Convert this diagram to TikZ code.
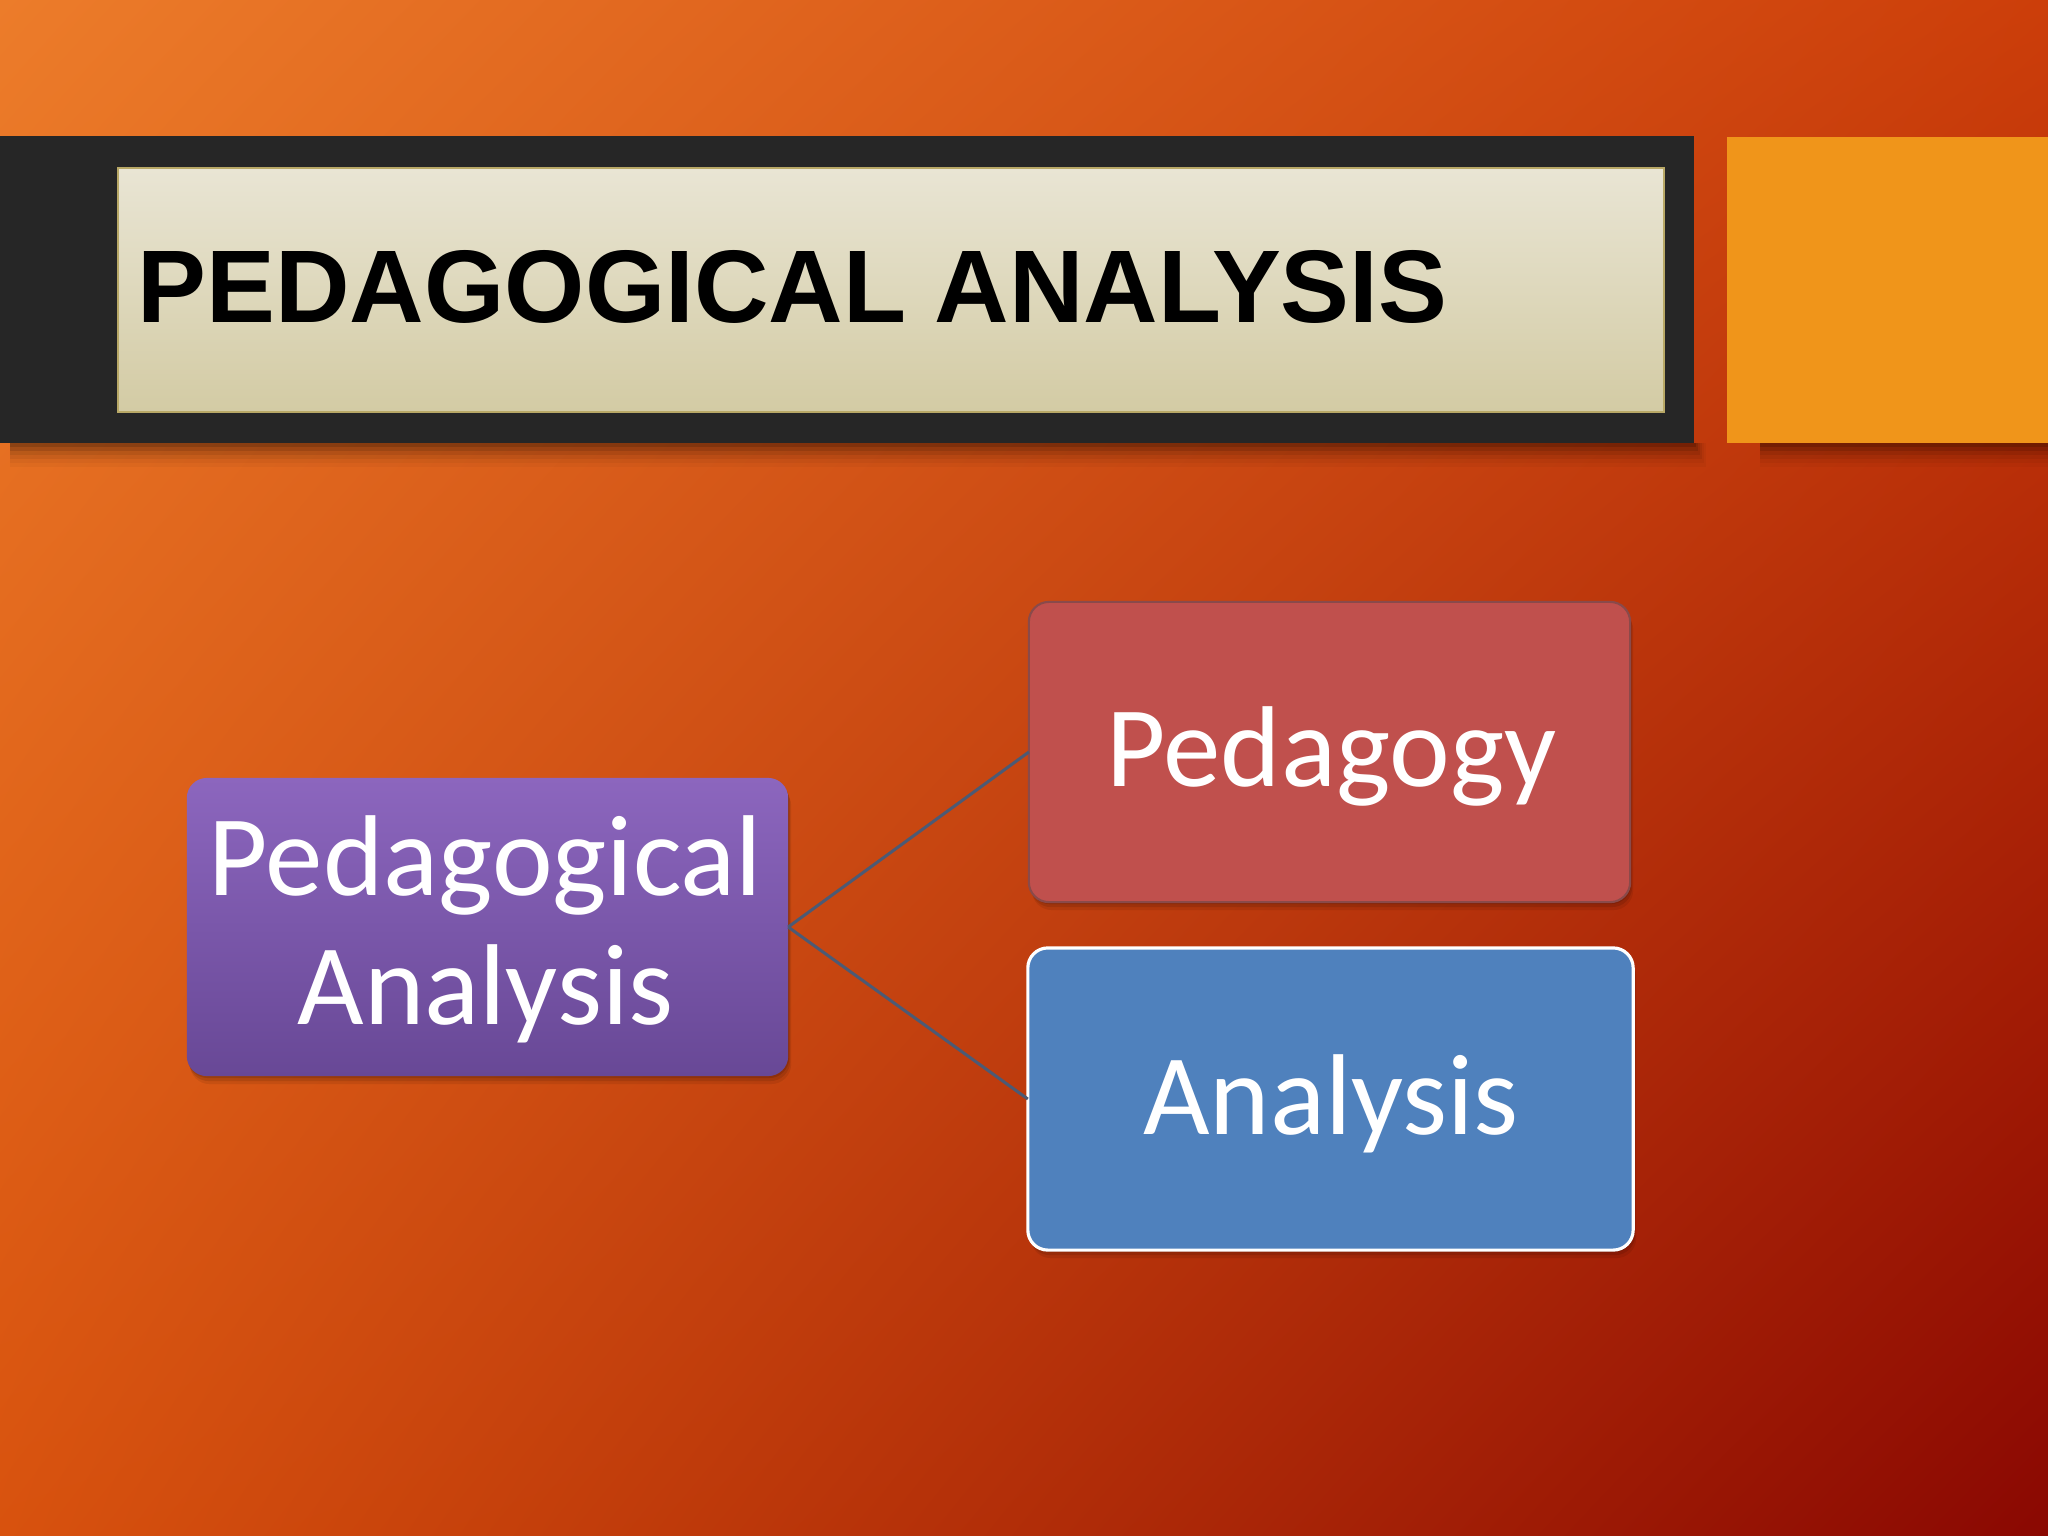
\documentclass[tikz,border=0pt]{standalone}
\usepackage{fontspec}
\setmainfont{Liberation Sans}
\newfontfamily\calib{Carlito}
\usetikzlibrary{shadows,shadings}
\definecolor{bgTL}{HTML}{EC7C2A}
\definecolor{bgTR}{HTML}{CC3E0A}
\definecolor{bgBL}{HTML}{D8520E}
\definecolor{bgBR}{HTML}{8A0802}
\definecolor{barblack}{HTML}{262626}
\definecolor{titletop}{HTML}{E9E5D4}
\definecolor{titlebot}{HTML}{D3CBA4}
\definecolor{titleedge}{HTML}{B8A866}
\definecolor{orangebox}{HTML}{F0951A}
\definecolor{purtop}{HTML}{8C66BE}
\definecolor{purbot}{HTML}{684896}
\definecolor{redbox}{HTML}{C0504D}
\definecolor{rededge}{HTML}{8A4A4A}
\definecolor{bluebox}{HTML}{4F81BD}
\definecolor{connc}{HTML}{4C5A74}
\tikzset{
  shad/.style={
    drop shadow={shadow xshift=0.01cm, shadow yshift=-0.02cm, opacity=0.12, fill=black},
    drop shadow={shadow xshift=0.02cm, shadow yshift=-0.05cm, opacity=0.10, fill=black},
    drop shadow={shadow xshift=0.03cm, shadow yshift=-0.08cm, opacity=0.08, fill=black}},
  rbox/.style={rectangle, rounded corners=0.2cm, inner sep=0pt, outer sep=0pt, shad},
  lbl/.style={inner sep=0pt, text=white, font=\calib\fontsize{32.7}{36.7}\selectfont},
  conn/.style={draw=connc, line width=0.85pt}
}
\begin{document}
\begin{tikzpicture}[x=0.01cm, y=-0.01cm]
\useasboundingbox (0,0) rectangle (2048,1536);
% background
\shade[upper left=bgTL, upper right=bgTR, lower left=bgBL, lower right=bgBR] (0,0) rectangle (2048,1536);
% soft shadows below the title bar and the orange block
\foreach \d/\o in {4/0.14, 8/0.11, 12/0.08, 16/0.06, 20/0.04, 24/0.03} {
  \fill[black, opacity=\o] (10,443) rectangle (1694+\d/2,443+\d);
  \fill[black, opacity=\o] (1760,443) rectangle (2048,443+\d);
}
% title bar
\fill[barblack] (0,136) rectangle (1694,443);
\shade[top color=titletop, bottom color=titlebot] (118,168) rectangle (1664,412);
\draw[titleedge, line width=0.6pt] (118,168) rectangle (1664,412);
\node[anchor=base west, inner sep=0pt, font=\bfseries\fontsize{29.35}{34}\selectfont] (title) at (137,322) {PEDAGOGICAL ANALYSIS};
% orange block
\fill[orangebox] (1727,137) rectangle (2060,443);
% boxes
\node[rbox, top color=purtop, bottom color=purbot, minimum width=6.01cm, minimum height=2.98cm] (pa) at (487.5,927) {};
\node[rbox, fill=redbox, draw=rededge, line width=0.6pt, minimum width=6.01cm, minimum height=3.0cm] (ped) at (1329.5,752) {};
\node[rbox, fill=bluebox, draw=white, line width=0.9pt, minimum width=6.05cm, minimum height=3.02cm] (ana) at (1330.5,1099) {};
% connectors
\draw[conn] (pa.east) -- (ped.west);
\draw[conn] (pa.east) -- (ana.west);
% labels
\node[lbl, anchor=base] (tpa1) at (485.5,895) {Pedagogical};
\node[lbl, anchor=base] (tpa2) at (485.5,1024) {Analysis};
\node[lbl, anchor=base] (tped) at (1331.5,786) {Pedagogy};
\node[lbl, anchor=base] (tana) at (1331,1134) {Analysis};
\end{tikzpicture}
\end{document}
